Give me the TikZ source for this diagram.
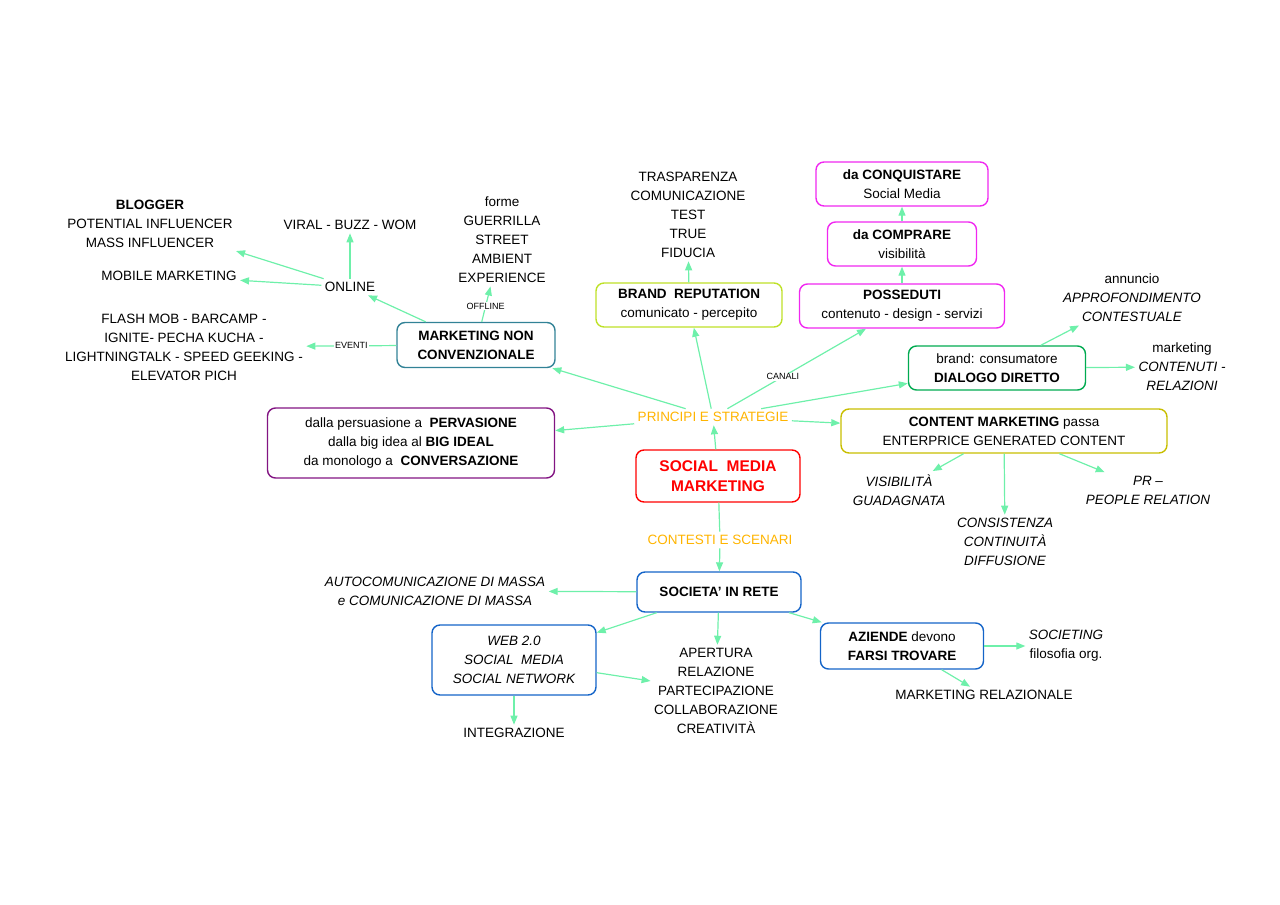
\documentclass[tikz,border=0pt]{standalone}
\usepackage{fontspec}
\setmainfont{Liberation Sans}
\usetikzlibrary{arrows.meta}
\definecolor{arr}{RGB}{110,240,170}
\definecolor{strat}{RGB}{255,180,0}
\definecolor{lime}{RGB}{190,225,40}
\definecolor{mag}{RGB}{240,40,240}
\definecolor{dgreen}{RGB}{0,170,80}
\definecolor{olive}{RGB}{200,190,0}
\definecolor{purp}{RGB}{130,20,130}
\definecolor{teal}{RGB}{50,130,150}
\definecolor{blu}{RGB}{20,100,200}
\tikzset{
  box/.style={draw=#1, line width=1.4pt, rounded corners=8pt, align=center},
  txt/.style={align=center},
  lnk/.style={draw=arr, line width=1.2pt, -{Triangle[length=9pt,width=7pt]}},
  small/.style={font=\fontsize{9}{10}\selectfont, fill=white, inner sep=1pt}
}
\begin{document}
\begin{tikzpicture}[x=1pt,y=-1pt,font=\fontsize{13.5}{19}\selectfont]
  \useasboundingbox (0,0) rectangle (1280,905);
  % centre
  \node[box=red, text=red, font=\fontsize{15.5}{20}\selectfont\bfseries, minimum width=164pt, minimum height=52pt] (smm) at (718,476) {SOCIAL\ \ MEDIA\\MARKETING};
  \node[txt, text=strat] (pes) at (713,417) {PRINCIPI E STRATEGIE};
  \node[txt, text=strat] (cs) at (720,540) {CONTESTI E SCENARI};
  \node[box=blu, minimum width=164pt, minimum height=40pt] (rete) at (719,592) {\textbf{SOCIETA' IN RETE}};
  % principi e strategie
  \node[box=lime, minimum width=186pt, minimum height=44pt] (brand) at (689,305) {\textbf{BRAND\ \ REPUTATION}\\comunicato - percepito};
  \node[txt] (trasp) at (688,215) {TRASPARENZA\\COMUNICAZIONE\\TEST\\TRUE\\FIDUCIA};
  \node[box=mag, minimum width=205pt, minimum height=44pt] (poss) at (902,306) {\textbf{POSSEDUTI}\\contenuto - design - servizi};
  \node[box=mag, minimum width=149pt, minimum height=44pt] (comprare) at (902,244) {\textbf{da COMPRARE}\\visibilità};
  \node[box=mag, minimum width=172pt, minimum height=44pt] (conquistare) at (902,184) {\textbf{da CONQUISTARE}\\Social Media};
  \node[box=dgreen, minimum width=177pt, minimum height=44pt] (dialogo) at (997,368) {brand: consumatore\\\textbf{DIALOGO DIRETTO}};
  \node[txt] (annuncio) at (1132,298) {annuncio\\\textit{APPROFONDIMENTO}\\\textit{CONTESTUALE}};
  \node[txt] (contenuti) at (1182,367) {marketing\\\textit{CONTENUTI -}\\\textit{RELAZIONI}};
  \node[box=olive, minimum width=326pt, minimum height=44pt] (content) at (1004,431) {\textbf{CONTENT MARKETING} passa\\ENTERPRICE GENERATED CONTENT};
  \node[txt, font=\fontsize{13.5}{19}\selectfont\itshape] (visib) at (899,490) {VISIBILITÀ\\GUADAGNATA};
  \node[txt, font=\fontsize{13.5}{19}\selectfont\itshape] (consist) at (1005,542) {CONSISTENZA\\CONTINUITÀ\\DIFFUSIONE};
  \node[txt, font=\fontsize{13.5}{19}\selectfont\itshape] (pr) at (1148,490) {PR --\\PEOPLE RELATION};
  \node[box=purp, minimum width=287pt, minimum height=70pt] (perv) at (411,443) {dalla persuasione a\ \ \textbf{PERVASIONE}\\dalla big idea al \textbf{BIG IDEAL}\\da monologo a\ \ \textbf{CONVERSAZIONE}};
  \node[box=teal, minimum width=158pt, minimum height=45pt] (mnc) at (476,345) {\textbf{MARKETING NON}\\\textbf{CONVENZIONALE}};
  \node[txt] (forme) at (502,240) {forme\\GUERRILLA\\STREET\\AMBIENT\\EXPERIENCE};
  \node[txt] (online) at (350,287) {ONLINE};
  \node[txt] (viral) at (350,225) {VIRAL - BUZZ - WOM};
  \node[txt] (blogger) at (150,224) {\textbf{BLOGGER}\\POTENTIAL INFLUENCER\\MASS INFLUENCER};
  \node[txt] (mobile) at (169,276) {MOBILE MARKETING};
  \node[txt] (flash) at (184,347) {FLASH MOB - BARCAMP -\\IGNITE- PECHA KUCHA -\\LIGHTNINGTALK - SPEED GEEKING -\\ELEVATOR PICH};
  % contesti e scenari
  \node[txt, font=\fontsize{13.5}{19}\selectfont\itshape] (autocom) at (435,591) {AUTOCOMUNICAZIONE DI MASSA\\e COMUNICAZIONE DI MASSA};
  \node[box=blu, minimum width=164pt, minimum height=70pt, font=\fontsize{13.5}{19}\selectfont\itshape] (web) at (514,660) {WEB 2.0\\SOCIAL\ \ MEDIA\\SOCIAL NETWORK};
  \node[txt] (integr) at (514,733) {INTEGRAZIONE};
  \node[txt] (apert) at (716,691) {APERTURA\\RELAZIONE\\PARTECIPAZIONE\\COLLABORAZIONE\\CREATIVITÀ};
  \node[box=blu, minimum width=163pt, minimum height=46pt] (aziende) at (902,646) {\textbf{AZIENDE} devono\\\textbf{FARSI TROVARE}};
  \node[txt] (societing) at (1066,646) {\textit{SOCIETING}\\filosofia org.};
  \node[txt] (relaz) at (984,695) {MARKETING RELAZIONALE};
  % connettori
  \draw[lnk] (smm) -- (pes);
  \draw[draw=arr, line width=1.2pt] (smm) -- (cs);
  \draw[lnk] (cs) -- (rete);
  \draw[lnk] (pes) -- (brand);
  \draw[lnk] (pes) -- node[small, pos=0.4] {CANALI} (poss.south west -| 866,328);
  \draw[lnk] (pes) -- (dialogo);
  \draw[lnk] (pes) -- (content);
  \draw[lnk] (pes) -- (mnc);
  \draw[lnk] (pes) -- (perv);
  \draw[lnk] (brand) -- (trasp);
  \draw[lnk] (poss) -- (comprare);
  \draw[lnk] (comprare) -- (conquistare);
  \draw[lnk] (dialogo) -- (annuncio);
  \draw[lnk] (dialogo) -- (contenuti);
  \draw[lnk] (content) -- (visib);
  \draw[lnk] (content) -- (consist);
  \draw[lnk] (content) -- (pr);
  \draw[lnk] (mnc) -- node[small, pos=0.45] {OFFLINE} (forme);
  \draw[lnk] (mnc) -- (online);
  \draw[lnk] (mnc) -- node[small, pos=0.5] {EVENTI} (flash);
  \draw[lnk] (online) -- (viral);
  \draw[lnk] (online) -- (blogger);
  \draw[lnk] (online) -- (mobile);
  \draw[lnk] (rete) -- (autocom);
  \draw[lnk] (rete) -- (web);
  \draw[lnk] (rete) -- (apert);
  \draw[lnk] (rete) -- (aziende);
  \draw[lnk] (web) -- (integr);
  \draw[lnk] (web) -- (apert);
  \draw[lnk] (aziende) -- (societing);
  \draw[lnk] (aziende) -- (relaz);
\end{tikzpicture}
\end{document}
